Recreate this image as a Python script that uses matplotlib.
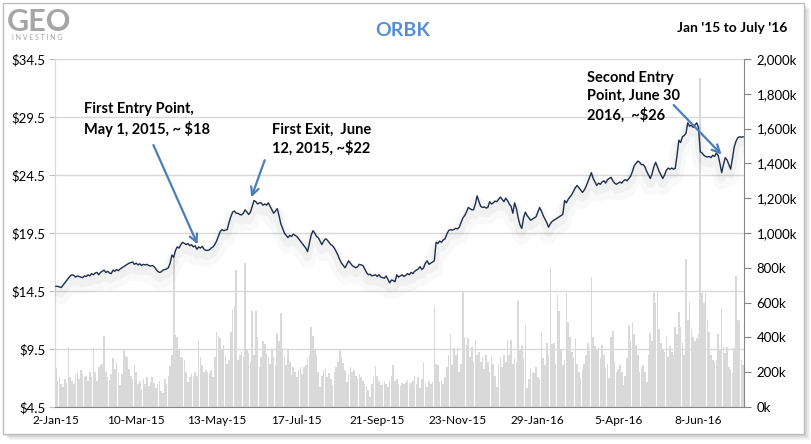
import matplotlib.pyplot as plt
import matplotlib.patheffects as pe
from matplotlib.patches import Rectangle

plt.rcParams['font.family'] = ['Lato', 'DejaVu Sans']

# daily close, Jan 2 2015 .. mid July 2016
price = [
    14.9, 14.9, 14.85, 14.8, 15.0, 15.2, 15.4, 15.6, 15.8, 15.9,
    15.85, 15.7, 15.8, 15.75, 15.7, 15.65, 15.8, 15.75, 15.9, 15.8,
    16.0, 15.9, 16.05, 16.1, 15.9, 16.1, 16.2, 16.3, 16.1, 16.2,
    16.05, 16.0, 16.3, 16.2, 16.35, 16.25, 16.4, 16.5, 16.6, 16.7,
    16.8, 16.9, 16.95, 17.0, 16.8, 16.9, 16.75, 16.85, 16.7, 16.8,
    16.75, 16.8, 16.7, 16.65, 16.7, 16.6, 16.4, 16.2, 16.1, 16.15,
    16.3, 16.35, 16.4, 16.5, 16.9, 17.6, 17.4, 18.0, 18.3, 18.2,
    18.5, 18.7, 18.6, 18.5, 18.6, 18.4, 18.5, 18.3, 18.4, 18.1,
    18.3, 18.2, 18.35, 18.1, 18.0, 18.0, 18.05, 18.2, 18.3, 18.5,
    18.8, 19.2, 19.6, 19.8, 19.7, 19.75, 19.8, 20.4, 20.9, 21.3,
    21.4, 21.2, 21.2, 21.1, 21.05, 21.2, 21.5, 21.3, 21.1, 21.3,
    21.8, 22.3, 22.2, 22.0, 22.1, 22.1, 21.9, 22.0, 21.9, 22.1,
    21.8, 21.5, 21.2, 21.4, 21.6, 21.0, 20.3, 19.9, 19.5, 19.3,
    19.1, 19.3, 19.2, 19.4, 19.3, 19.2, 19.0, 18.8, 18.6, 18.4,
    18.2, 17.9, 18.6, 19.3, 19.7, 19.5, 19.2, 19.1, 18.8, 18.5,
    18.8, 19.0, 18.9, 18.7, 18.5, 18.4, 18.2, 17.9, 17.6, 17.2,
    16.9, 16.7, 16.5, 16.8, 17.1, 16.9, 16.7, 16.6, 16.5, 16.6,
    16.8, 16.75, 16.7, 16.4, 16.1, 15.9, 15.95, 15.8, 15.85, 15.9,
    15.75, 15.9, 15.7, 15.65, 15.6, 15.8, 15.5, 15.2, 15.45, 15.4,
    15.3, 15.9, 15.7, 15.8, 15.9, 15.75, 15.85, 16.0, 15.9, 16.1,
    16.0, 16.2, 16.3, 16.4, 16.6, 16.35, 16.5, 16.9, 17.1, 16.8,
    16.9, 17.0, 17.1, 18.7, 18.6, 18.8, 18.7, 18.9, 19.0, 19.4,
    19.7, 19.8, 19.75, 19.8, 19.9, 19.85, 20.0, 20.4, 20.8, 21.0,
    21.3, 21.7, 21.6, 21.5, 21.5, 22.0, 22.7, 22.2, 21.8, 21.7,
    21.75, 21.65, 21.7, 22.2, 22.0, 22.1, 22.25, 22.2, 22.4, 22.6,
    22.4, 22.2, 22.5, 22.3, 22.0, 21.8, 21.2, 22.1, 21.6, 20.8,
    20.2, 19.9, 20.8, 21.3, 21.0, 20.8, 20.6, 20.7, 20.8, 20.9,
    21.3, 21.7, 21.4, 21.0, 20.7, 20.4, 20.0, 20.3, 20.5, 20.6,
    20.7, 20.8, 20.9, 21.0, 21.1, 22.3, 22.1, 22.4, 22.6, 22.8,
    23.1, 23.4, 23.6, 23.4, 23.2, 23.0, 23.2, 23.5, 23.9, 24.3,
    24.7, 24.2, 23.9, 23.6, 23.8, 23.7, 23.9, 24.0, 23.8, 24.1,
    24.2, 24.3, 24.0, 23.8, 23.7, 23.8, 23.9, 23.8, 24.0, 24.1,
    24.0, 24.2, 24.4, 24.8, 25.3, 25.5, 25.7, 25.6, 25.4, 25.4,
    25.2, 24.8, 24.5, 24.2, 24.6, 25.2, 25.6, 25.2, 24.8, 24.5,
    24.2, 24.5, 24.9, 25.1, 25.0, 25.1, 25.0, 25.1, 26.2, 27.5,
    27.3, 27.8, 27.9, 28.1, 29.0, 28.7, 28.8, 28.6, 28.8, 29.0,
    28.6, 26.5, 26.4, 26.2, 26.1, 26.05, 26.1, 26.0, 26.2, 26.1,
    26.4, 26.2, 25.5, 24.7, 25.4, 26.0, 25.8, 25.4, 25.0, 25.9,
    26.9, 27.4, 27.7, 27.8, 27.75, 27.8,
]

# daily volume, thousands of shares
volume = [
    222, 150, 175, 130, 117, 160, 140, 343, 175, 150,
    135, 190, 203, 160, 213, 190, 170, 180, 150, 200,
    175, 337, 200, 150, 230, 241, 250, 408, 200, 170,
    155, 190, 280, 220, 260, 200, 125, 190, 328, 300,
    290, 220, 180, 160, 241, 200, 135, 150, 100, 160,
    130, 175, 120, 145, 170, 140, 110, 135, 150, 90,
    80, 160, 130, 180, 236, 300, 864, 414, 405, 330,
    290, 280, 270, 200, 145, 170, 190, 175, 200, 180,
    385, 290, 241, 200, 215, 203, 193, 210, 170, 290,
    433, 410, 395, 330, 355, 300, 250, 270, 430, 557,
    580, 788, 270, 300, 318, 290, 826, 330, 310, 260,
    552, 300, 552, 400, 232, 290, 381, 360, 310, 290,
    250, 330, 290, 240, 423, 380, 538, 337, 300, 240,
    328, 260, 185, 230, 200, 175, 210, 230, 190, 232,
    241, 280, 300, 458, 408, 330, 300, 200, 117, 180,
    210, 222, 170, 193, 160, 125, 200, 230, 261, 328,
    290, 255, 210, 145, 190, 230, 200, 213, 180, 160,
    190, 170, 150, 135, 120, 100, 60, 130, 170, 236,
    180, 150, 125, 140, 150, 130, 117, 150, 180, 241,
    150, 160, 135, 120, 140, 130, 145, 155, 125, 140,
    150, 180, 130, 175, 107, 160, 260, 140, 117, 150,
    130, 145, 580, 250, 240, 145, 150, 135, 170, 232,
    300, 420, 240, 337, 300, 337, 203, 250, 667, 400,
    356, 395, 290, 345, 260, 385, 300, 318, 260, 290,
    220, 300, 260, 200, 300, 250, 180, 117, 240, 290,
    230, 300, 260, 385, 300, 385, 250, 280, 260, 609,
    330, 356, 280, 471, 107, 160, 222, 200, 193, 230,
    175, 160, 433, 280, 240, 365, 300, 803, 360, 365,
    250, 644, 550, 330, 240, 270, 653, 490, 400, 318,
    280, 395, 250, 200, 165, 210, 250, 300, 365, 320,
    749, 400, 350, 330, 337, 280, 356, 300, 222, 250,
    165, 404, 437, 260, 203, 220, 241, 200, 125, 180,
    280, 470, 380, 490, 420, 356, 300, 203, 230, 241,
    200, 145, 300, 423, 380, 653, 600, 663, 450, 365,
    330, 318, 408, 290, 350, 318, 300, 462, 420, 548,
    462, 365, 300, 849, 500, 602, 450, 404, 380, 395,
    420, 1890, 653, 600, 653, 500, 433, 300, 270, 260,
    270, 418, 330, 571, 346, 310, 346, 232, 210, 193,
    337, 753, 500, 494, 270, 241,
]

tick_labels = ['2-Jan-15', '10-Mar-15', '13-May-15', '17-Jul-15', '21-Sep-15',
               '23-Nov-15', '29-Jan-16', '5-Apr-16', '8-Jun-16']
tick_step = 45
price_ticks = [4.5, 9.5, 14.5, 19.5, 24.5, 29.5, 34.5]
vol_ticks = list(range(0, 2001, 200))

days = list(range(len(price)))

fig = plt.figure(figsize=(8.11, 4.44), dpi=100)
W, H = 811, 444

# frame with a soft drop shadow (behind the axes)
for k in range(6, 0, -1):
    fig.patches.append(Rectangle(((3 + k) / W, 1 - (434 + k) / H), 801 / W, 431 / H,
                                 transform=fig.transFigure, facecolor='#000000',
                                 alpha=0.035, edgecolor='none', zorder=-3))
fig.patches.append(Rectangle((3 / W, 1 - 434 / H), 801 / W, 431 / H,
                             transform=fig.transFigure, facecolor='white',
                             edgecolor='#BFBFBF', linewidth=1, zorder=-2))

ax = fig.add_axes([55 / W, 1 - 407 / H, 689 / W, 348 / H])
ax2 = ax.twinx()
ax.set_zorder(ax2.get_zorder() + 1)
ax.patch.set_visible(False)
ax2.patch.set_visible(False)

# volume bars
ax2.bar(days, volume, width=0.9, color='#D9D9D9', linewidth=0, antialiased=False)
ax2.set_ylim(0, 2000)
ax2.set_yticks(vol_ticks)
ax2.set_yticklabels(['{:,}k'.format(v) for v in vol_ticks], fontsize=9.5)
ax2.tick_params(axis='y', length=5, color='#868686', pad=4)
for s in ['top', 'left', 'bottom']:
    ax2.spines[s].set_visible(False)
ax2.spines['right'].set_color('#868686')

# price line
ax.plot(days, price, color='#1F2E4C', linewidth=1.0, zorder=3,
        path_effects=[pe.SimpleLineShadow(offset=(0, -6), shadow_color='k', alpha=0.025, linewidth=12),
                      pe.SimpleLineShadow(offset=(0, -4), shadow_color='k', alpha=0.03, linewidth=6),
                      pe.Normal()])
ax.set_ylim(4.5, 34.5)
ax.set_xlim(-0.5, len(price) - 0.5)
ax.set_yticks(price_ticks)
ax.set_yticklabels(['${}'.format(p) for p in price_ticks], fontsize=9.5)
ax.set_xticks([i * tick_step for i in range(len(tick_labels))])
ax.set_xticklabels(tick_labels, fontsize=8.5)
ax.tick_params(axis='x', length=0, pad=6)
ax.tick_params(axis='y', length=4, color='#BFBFBF', pad=3)
ax.yaxis.grid(True, color='#D9D9D9', linewidth=1)
ax.set_axisbelow(True)
ax.spines['top'].set_visible(False)
ax.spines['right'].set_visible(False)
ax.spines['left'].set_color('#D9D9D9')
ax.spines['bottom'].set_color('#868686')

# annotations
arrow = dict(arrowstyle='->', color='#4A7EBB', lw=1.6, mutation_scale=14)
ax.annotate('', xy=(80, 18.3), xytext=(54, 27.3), arrowprops=arrow)
ax.annotate('', xy=(109, 22.35), xytext=(117.5, 26.0), arrowprops=arrow)
ax.annotate('', xy=(374, 26.1), xytext=(345, 30.7), arrowprops=arrow)
note = dict(fontsize=10.5, fontweight='bold', ha='left', va='top', linespacing=1.35)
ax.text(15.5, 30.75, 'First Entry Point,\nMay 1, 2015, ~ $18', **note)
ax.text(121, 29.0, 'First Exit,  June\n12, 2015, ~$22', **note)
ax.text(297.5, 33.45, 'Second Entry\nPoint, June 30\n2016,  ~$26', **note)

# titles and logo
fig.text(403 / W, 1 - 30 / H, 'ORBK', fontsize=14, fontweight='bold',
         color='#558ED5', ha='center', va='center')
fig.text(787 / W, 1 - 28 / H, "Jan '15 to July '16", fontsize=10, fontweight='bold',
         ha='right', va='center')
fig.text(7 / W, 1 - 22 / H, 'GEO', fontsize=22, fontweight='bold',
         color='#A6A6A6', ha='left', va='center')
fig.text(12 / W, 1 - 38 / H, 'I N V E S T I N G', fontsize=5, color='#A6A6A6',
         ha='left', va='center')

fig.savefig('out.png', dpi=100)
